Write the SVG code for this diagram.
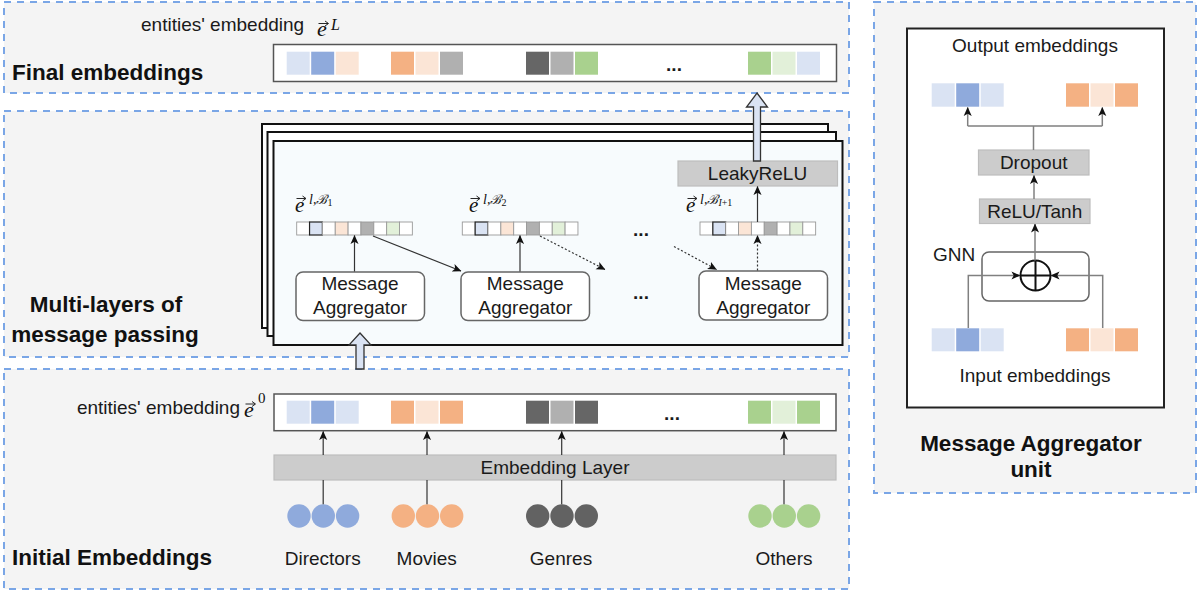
<svg xmlns="http://www.w3.org/2000/svg" width="1200" height="593" viewBox="0 0 1200 593">
<defs>
<style>
.panel{fill:#f4f4f4;stroke:#7aa6e6;stroke-width:2;stroke-dasharray:7 6}
.t{font-family:"Liberation Sans",Arial,sans-serif;font-size:19px;fill:#1a1a1a}
.tb{font-family:"Liberation Sans",Arial,sans-serif;font-size:22.5px;font-weight:bold;fill:#111}
.m{font-family:"Liberation Serif","DejaVu Serif",serif;font-style:italic;fill:#111}
.mr{font-family:"Liberation Serif","DejaVu Serif",serif;font-style:normal;fill:#111}
.cal{font-family:"DejaVu Serif","Liberation Serif",serif;font-style:italic;fill:#111}
.bar{fill:#fff;stroke:#555;stroke-width:1.5}
.layer{fill:#cccccc;stroke:#bdbdbd;stroke-width:1.2}
.agg{fill:#fff;stroke:#666;stroke-width:1.5}
.frame{fill:#fff;stroke:#111;stroke-width:2}
.lb{fill:#dae3f3}.bl{fill:#8faadc}.pe{fill:#fbe5d6}.or{fill:#f4b183}.gy{fill:#b0b0b0}.dk{fill:#666666}.gr{fill:#a9d18e}.lg{fill:#e2f0d9}
.sc{fill:#fff;stroke:#999;stroke-width:0.9}
.ln{fill:none;stroke:#333;stroke-width:1.2}
.lnd{fill:none;stroke:#333;stroke-width:1.2;stroke-dasharray:2 2}
.lng{fill:none;stroke:#808080;stroke-width:1.5}
.vec{fill:none;stroke:#111;stroke-width:0.9}
.hollow{fill:#dae3f3;stroke:#333;stroke-width:1.3}
</style>
<marker id="ah" viewBox="0 0 10 10" refX="9.5" refY="5" markerWidth="9" markerHeight="9" markerUnits="userSpaceOnUse" orient="auto">
<path d="M0,0.5 L10,5 L0,9.5 L2.5,5 z" fill="#111"/>
</marker>
</defs>

<!-- panels -->
<g id="panel-final">
<rect class="panel" x="4" y="2" width="845" height="91"/>
<text class="t" x="141" y="31">entities' embedding</text>
<text class="m" x="317" y="36" font-size="22">e</text>
<path class="vec" d="M318.5,23.5 H328 M325,21 L328.5,23.5 L325,26"/>
<text class="m" x="331" y="30" font-size="16">L</text>
<text class="tb" x="12" y="80">Final embeddings</text>
</g>

<g id="panel-multi">
<rect class="panel" x="4" y="111" width="845" height="246"/>
<text class="tb" x="106" y="312" text-anchor="middle">Multi-layers of</text>
<text class="tb" x="105" y="342" text-anchor="middle">message passing</text>
</g>

<g id="panel-initial">
<rect class="panel" x="4" y="369" width="845" height="220"/>
<text class="t" x="240" y="414" text-anchor="end">entities' embedding</text>
<text class="m" x="244" y="417" font-size="22">e</text>
<path class="vec" d="M245.5,404 H255 M252,401.5 L255.5,404 L252,406.5"/>
<text class="mr" x="258" y="403" font-size="15">0</text>
<text class="tb" x="12" y="565">Initial Embeddings</text>
</g>

<g id="panel-unit">
<rect class="panel" x="874" y="2" width="322" height="491"/>
<text class="tb" x="1031" y="451" text-anchor="middle">Message Aggregator</text>
<text class="tb" x="1031" y="477" text-anchor="middle">unit</text>
</g>

<!-- final embedding bar -->
<g id="final-bar">
<rect class="bar" x="273.5" y="44.5" width="563" height="37"/>
<rect class="lb" x="286.7" y="51.7" width="23" height="23"/>
<rect class="bl" x="311.2" y="51.7" width="23" height="23"/>
<rect class="pe" x="335.7" y="51.7" width="23" height="23"/>
<rect class="or" x="391" y="51.7" width="23" height="23"/>
<rect class="pe" x="415.5" y="51.7" width="23" height="23"/>
<rect class="gy" x="440" y="51.7" width="23" height="23"/>
<rect class="dk" x="526" y="51.7" width="23" height="23"/>
<rect class="gy" x="550.5" y="51.7" width="23" height="23"/>
<rect class="gr" x="575" y="51.7" width="23" height="23"/>
<text class="t" x="674" y="71" text-anchor="middle" font-weight="bold">...</text>
<rect class="gr" x="748" y="51.7" width="23" height="23"/>
<rect class="lg" x="772.5" y="51.7" width="23" height="23"/>
<rect class="lb" x="797" y="51.7" width="23" height="23"/>
</g>

<!-- stacked frames -->
<g id="frames">
<rect class="frame" x="262" y="124" width="566" height="204"/>
<rect class="frame" x="267.5" y="132" width="568.5" height="204"/>
<rect class="frame" x="273.5" y="141" width="569" height="204" style="fill:#f7fbfd"/>
</g>

<g id="leakyrelu">
<rect class="layer" x="678" y="161" width="159.5" height="25"/>
<text class="t" x="757.5" y="180" text-anchor="middle">LeakyReLU</text>
</g>

<!-- small bars -->
<g id="bar1">
<rect class="sc" x="296.7" y="222" width="12.85" height="13"/>
<rect class="sc" x="309.55" y="222" width="12.85" height="13" style="fill:#dae3f3;stroke:#222;stroke-width:1.2"/>
<rect class="sc" x="322.4" y="222" width="12.85" height="13"/>
<rect class="sc" x="335.25" y="222" width="12.85" height="13" style="fill:#fbe5d6"/>
<rect class="sc" x="348.1" y="222" width="12.85" height="13"/>
<rect class="sc" x="360.95" y="222" width="12.85" height="13" style="fill:#b0b0b0"/>
<rect class="sc" x="373.8" y="222" width="12.85" height="13"/>
<rect class="sc" x="386.65" y="222" width="12.85" height="13" style="fill:#e2f0d9"/>
<rect class="sc" x="399.5" y="222" width="12.85" height="13"/>
<text class="m" x="295" y="212" font-size="21">e</text>
<path class="vec" d="M296.5,198.5 H305.5 M302.5,196 L306,198.5 L302.5,201"/>
<text class="m" x="309" y="204" font-size="14">l,<tspan class="cal" font-size="13">ℬ</tspan><tspan class="mr" font-size="10" dy="2">1</tspan></text>
</g>

<g id="bar2">
<rect class="sc" x="462.3" y="222" width="12.85" height="13"/>
<rect class="sc" x="475.15" y="222" width="12.85" height="13" style="fill:#dae3f3;stroke:#222;stroke-width:1.2"/>
<rect class="sc" x="488" y="222" width="12.85" height="13"/>
<rect class="sc" x="500.85" y="222" width="12.85" height="13" style="fill:#fbe5d6"/>
<rect class="sc" x="513.7" y="222" width="12.85" height="13"/>
<rect class="sc" x="526.55" y="222" width="12.85" height="13" style="fill:#b0b0b0"/>
<rect class="sc" x="539.4" y="222" width="12.85" height="13"/>
<rect class="sc" x="552.25" y="222" width="12.85" height="13" style="fill:#e2f0d9"/>
<rect class="sc" x="565.1" y="222" width="12.85" height="13"/>
<text class="m" x="469" y="212" font-size="21">e</text>
<path class="vec" d="M470.5,198.5 H479.5 M476.5,196 L480,198.5 L476.5,201"/>
<text class="m" x="483" y="204" font-size="14">l,<tspan class="cal" font-size="13">ℬ</tspan><tspan class="mr" font-size="10" dy="2">2</tspan></text>
</g>

<g id="bar3">
<rect class="sc" x="700" y="222" width="12.85" height="13"/>
<rect class="sc" x="712.85" y="222" width="12.85" height="13" style="fill:#dae3f3;stroke:#222;stroke-width:1.2"/>
<rect class="sc" x="725.7" y="222" width="12.85" height="13"/>
<rect class="sc" x="738.55" y="222" width="12.85" height="13" style="fill:#fbe5d6"/>
<rect class="sc" x="751.4" y="222" width="12.85" height="13"/>
<rect class="sc" x="764.25" y="222" width="12.85" height="13" style="fill:#b0b0b0"/>
<rect class="sc" x="777.1" y="222" width="12.85" height="13"/>
<rect class="sc" x="789.95" y="222" width="12.85" height="13" style="fill:#e2f0d9"/>
<rect class="sc" x="802.8" y="222" width="12.85" height="13"/>
<text class="m" x="686" y="212" font-size="21">e</text>
<path class="vec" d="M687.5,198.5 H696.5 M693.5,196 L697,198.5 L693.5,201"/>
<text class="m" x="700" y="204" font-size="14">l,<tspan class="cal" font-size="13">ℬ</tspan><tspan font-size="10" dy="2">I</tspan><tspan class="mr" font-size="10">+1</tspan></text>
</g>

<!-- message aggregators -->
<g id="agg1">
<rect class="agg" x="296" y="272" width="128.5" height="48.5" rx="7"/>
<text class="t" x="360" y="290" text-anchor="middle">Message</text>
<text class="t" x="360" y="314" text-anchor="middle">Aggregator</text>
</g>
<g id="agg2">
<rect class="agg" x="461" y="272" width="128.5" height="48.5" rx="7"/>
<text class="t" x="525.3" y="290" text-anchor="middle">Message</text>
<text class="t" x="525.3" y="314" text-anchor="middle">Aggregator</text>
</g>
<g id="agg3">
<rect class="agg" x="699" y="271" width="128.5" height="49" rx="7"/>
<text class="t" x="763.3" y="290" text-anchor="middle">Message</text>
<text class="t" x="763.3" y="314" text-anchor="middle">Aggregator</text>
</g>
<g id="dots-mid">
<text class="t" x="641" y="236" text-anchor="middle" font-weight="bold">...</text>
<text class="t" x="641" y="299" text-anchor="middle" font-weight="bold">...</text>
</g>

<!-- initial embeddings -->
<g id="initial-bar">
<rect class="bar" x="274" y="394" width="562" height="36.7"/>
<rect class="lb" x="286.7" y="400.7" width="23" height="23"/>
<rect class="bl" x="311.2" y="400.7" width="23" height="23"/>
<rect class="lb" x="335.7" y="400.7" width="23" height="23"/>
<rect class="or" x="391" y="400.7" width="23" height="23"/>
<rect class="pe" x="415.5" y="400.7" width="23" height="23"/>
<rect class="or" x="440" y="400.7" width="23" height="23"/>
<rect class="dk" x="526" y="400.7" width="23" height="23"/>
<rect class="gy" x="550.5" y="400.7" width="23" height="23"/>
<rect class="dk" x="575" y="400.7" width="23" height="23"/>
<text class="t" x="672" y="420" text-anchor="middle" font-weight="bold">...</text>
<rect class="gr" x="748" y="400.7" width="23" height="23"/>
<rect class="lg" x="772.5" y="400.7" width="23" height="23"/>
<rect class="gr" x="797" y="400.7" width="23" height="23"/>
</g>
<g id="embedding-layer">
<rect class="layer" x="274" y="455" width="562" height="25"/>
<text class="t" x="555" y="474" text-anchor="middle">Embedding Layer</text>
</g>
<g id="directors">
<circle cx="299" cy="516" r="11.7" fill="#8faadc"/>
<circle cx="323.3" cy="516" r="11.7" fill="#8faadc"/>
<circle cx="347.6" cy="516" r="11.7" fill="#8faadc"/>
<text class="t" x="322.7" y="565" text-anchor="middle">Directors</text>
</g>
<g id="movies">
<circle cx="403.3" cy="516" r="11.7" fill="#f4b183"/>
<circle cx="427.5" cy="516" r="11.7" fill="#f4b183"/>
<circle cx="451.7" cy="516" r="11.7" fill="#f4b183"/>
<text class="t" x="426.7" y="565" text-anchor="middle">Movies</text>
</g>
<g id="genres">
<circle cx="537.7" cy="516" r="11.7" fill="#626262"/>
<circle cx="562" cy="516" r="11.7" fill="#626262"/>
<circle cx="586.3" cy="516" r="11.7" fill="#626262"/>
<text class="t" x="561" y="565" text-anchor="middle">Genres</text>
</g>
<g id="others">
<circle cx="760" cy="516" r="11.7" fill="#a9d18e"/>
<circle cx="784.3" cy="516" r="11.7" fill="#a9d18e"/>
<circle cx="808.6" cy="516" r="11.7" fill="#a9d18e"/>
<text class="t" x="784" y="565" text-anchor="middle">Others</text>
</g>

<!-- message aggregator unit -->
<g id="unit-box">
<rect x="907" y="28.5" width="257" height="379" fill="#fff" stroke="#222" stroke-width="2"/>
<text class="t" x="1035" y="52" text-anchor="middle">Output embeddings</text>
<text class="t" x="1035" y="382" text-anchor="middle">Input embeddings</text>
</g>
<g id="unit-output">
<rect class="lb" x="931.7" y="83.3" width="23" height="23.4"/>
<rect class="bl" x="956.2" y="83.3" width="23" height="23.4"/>
<rect class="lb" x="980.7" y="83.3" width="23" height="23.4"/>
<rect class="or" x="1066" y="83.3" width="23" height="23.4"/>
<rect class="pe" x="1090.5" y="83.3" width="23" height="23.4"/>
<rect class="or" x="1115" y="83.3" width="23" height="23.4"/>
</g>
<g id="unit-dropout">
<rect class="layer" x="978.5" y="150" width="110.5" height="25"/>
<text class="t" x="1033.7" y="169" text-anchor="middle">Dropout</text>
</g>
<g id="unit-relu">
<rect class="layer" x="979.5" y="199" width="110.5" height="24.5"/>
<text class="t" x="1034.7" y="218" text-anchor="middle">ReLU/Tanh</text>
</g>
<g id="unit-gnn">
<rect x="982" y="252" width="107" height="49" rx="7" fill="#fff" stroke="#666" stroke-width="1.5"/>
<text class="t" x="933" y="261">GNN</text>
<circle cx="1035.5" cy="275.5" r="15" fill="#fff" stroke="#111" stroke-width="2"/>
<path d="M1020.5,275.5 H1050.5 M1035.5,260.5 V290.5" stroke="#111" stroke-width="2"/>
</g>
<g id="unit-input">
<rect class="lb" x="931.7" y="328.3" width="23" height="23"/>
<rect class="bl" x="956.2" y="328.3" width="23" height="23"/>
<rect class="lb" x="980.7" y="328.3" width="23" height="23"/>
<rect class="or" x="1066" y="328.3" width="23" height="23"/>
<rect class="pe" x="1090.5" y="328.3" width="23" height="23"/>
<rect class="or" x="1115" y="328.3" width="23" height="23"/>
</g>

<!-- connectors -->
<g id="connectors">
<!-- hollow arrows -->
<path class="hollow" d="M757,93 L767.5,107 L760.5,107 L760.5,161 L753.5,161 L753.5,107 L746.5,107 Z"/>
<path class="hollow" d="M360,333 L371,345 L364,345 L364,369 L356,369 L356,345 L349,345 Z"/>
<!-- middle -->
<path class="ln" d="M354.5,271.5 V235.5" marker-end="url(#ah)"/>
<path class="ln" d="M373,236 L461,271" marker-end="url(#ah)"/>
<path class="ln" d="M520,271.5 V235.5" marker-end="url(#ah)"/>
<path class="lnd" d="M540,236 L605,269.5" marker-end="url(#ah)"/>
<path class="lnd" d="M674,246.5 L716.5,269.5" marker-end="url(#ah)"/>
<path class="lnd" d="M757.5,270.5 V235.5" marker-end="url(#ah)"/>
<path class="ln" d="M757.5,222 V186.5" marker-end="url(#ah)"/>
<!-- bottom -->
<path class="ln" d="M323.2,455 V431.5" marker-end="url(#ah)"/>
<path class="ln" d="M427,455 V431.5" marker-end="url(#ah)"/>
<path class="ln" d="M561.7,455 V431.5" marker-end="url(#ah)"/>
<path class="ln" d="M784,455 V431.5" marker-end="url(#ah)"/>
<path class="ln" d="M323.2,504.3 V480"/>
<path class="ln" d="M427,504.3 V480"/>
<path class="ln" d="M561.7,504.3 V480"/>
<path class="ln" d="M784,504.3 V480"/>
<!-- unit -->
<path class="lng" d="M1033.5,150 V126 M967.7,126 H1102.3"/>
<path class="lng" d="M967.7,126 V107.5" marker-end="url(#ah)"/>
<path class="lng" d="M1102.3,126 V107.5" marker-end="url(#ah)"/>
<path class="lng" d="M1034,199 V175.5" marker-end="url(#ah)"/>
<path class="lng" d="M1035,260.5 V224" marker-end="url(#ah)"/>
<path class="lng" d="M968.3,328 V275.5 H1020" marker-end="url(#ah)"/>
<path class="lng" d="M1102.7,328 V275.5 H1051" marker-end="url(#ah)"/>
</g>
</svg>
